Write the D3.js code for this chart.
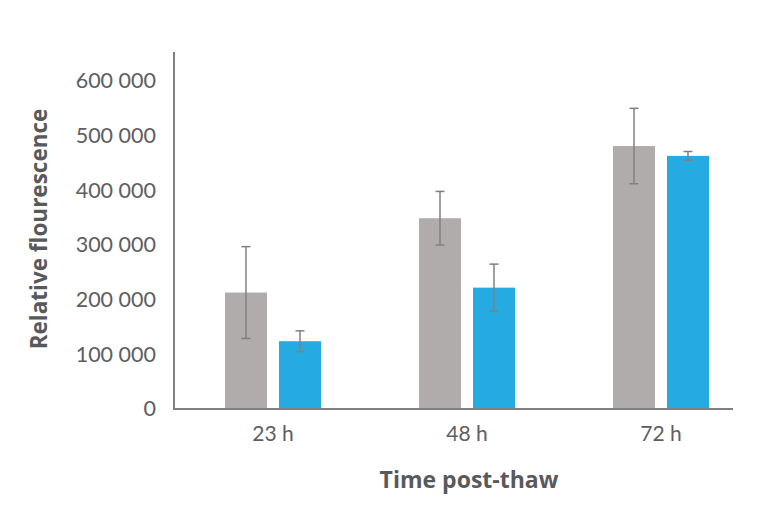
<!DOCTYPE html>
<html>
<head>
<meta charset="utf-8">
<script src="https://cdn.jsdelivr.net/npm/d3@7/dist/d3.min.js"></script>
<style>
  html, body { margin: 0; padding: 0; background: #ffffff; }
  svg { display: block; }
</style>
</head>
<body>
<svg id="chart" width="779" height="525"></svg>
<script>
// ---- data ----
const categories = ["23 h", "48 h", "72 h"];
const seriesNames = ["Control", "Treated"];
const controlValues = [213000, 349000, 481000];
const controlErrors = [84000, 49000, 69000];
const treatedValues = [124000, 222000, 463000];
const treatedErrors = [19000, 43000, 8000];
const yTickValues = [0, 100000, 200000, 300000, 400000, 500000, 600000];
const yAxisTitle = "Relative flourescence";
const xAxisTitle = "Time post-thaw";

// ---- layout ----
const W = 779, H = 525;
const axisX = 174, axisRight = 733;
const baseY = 409, topY = 52;
const colors = { Control: "#b0acab", Treated: "#25abe1" };
const textColor = "#5d5e60";
const titleColor = "#58595b";
const axisColor = "#808080";
const font = "Lato, 'Open Sans', sans-serif";
const titleFont = "'Open Sans', 'Noto Sans', sans-serif";

const svg = d3.select("#chart");

const y = d3.scaleLinear().domain([0, 653000]).range([baseY, topY]);
const x0 = d3.scaleBand().domain(categories).range([176, 758]).paddingInner(0).paddingOuter(0);
const x1 = d3.scaleBand().domain(seriesNames).range([49, 145]).paddingInner(0.222).paddingOuter(0);

const rows = categories.map((c, i) => ({
  cat: c,
  bars: [
    { s: "Control", v: controlValues[i], e: controlErrors[i] },
    { s: "Treated", v: treatedValues[i], e: treatedErrors[i] }
  ]
}));

// bars
const g = svg.append("g");
const groups = g.selectAll("g.grp").data(rows).join("g")
  .attr("class", "grp")
  .attr("transform", d => `translate(${x0(d.cat)},0)`);

groups.selectAll("rect").data(d => d.bars).join("rect")
  .attr("x", d => x1(d.s))
  .attr("y", d => y(d.v))
  .attr("width", x1.bandwidth())
  .attr("height", d => y(0) - y(d.v))
  .attr("fill", d => colors[d.s]);

// error bars
const capHalf = 4.5;
const eb = groups.selectAll("g.err").data(d => d.bars).join("g").attr("class", "err")
  .attr("stroke", axisColor).attr("stroke-width", 1.5);
eb.append("line")
  .attr("x1", d => x1(d.s) + x1.bandwidth() / 2)
  .attr("x2", d => x1(d.s) + x1.bandwidth() / 2)
  .attr("y1", d => y(d.v + d.e))
  .attr("y2", d => y(d.v - d.e));
eb.append("line")
  .attr("x1", d => x1(d.s) + x1.bandwidth() / 2 - capHalf)
  .attr("x2", d => x1(d.s) + x1.bandwidth() / 2 + capHalf)
  .attr("y1", d => y(d.v + d.e))
  .attr("y2", d => y(d.v + d.e));
eb.append("line")
  .attr("x1", d => x1(d.s) + x1.bandwidth() / 2 - capHalf)
  .attr("x2", d => x1(d.s) + x1.bandwidth() / 2 + capHalf)
  .attr("y1", d => y(d.v - d.e))
  .attr("y2", d => y(d.v - d.e));

// axis lines
svg.append("line")
  .attr("x1", axisX).attr("x2", axisX)
  .attr("y1", y.range()[1]).attr("y2", y(0) + 1)
  .attr("stroke", axisColor).attr("stroke-width", 2);
svg.append("line")
  .attr("x1", axisX - 1).attr("x2", axisRight)
  .attr("y1", y(0)).attr("y2", y(0))
  .attr("stroke", axisColor).attr("stroke-width", 2);

// y axis labels
const fmt = v => d3.format(",")(v).replace(/,/g, " ");
const yAxis = d3.axisLeft(y).tickValues(yTickValues).tickFormat(fmt).tickSize(0).tickPadding(18);
const ya = svg.append("g").attr("transform", `translate(${axisX},0)`).call(yAxis);
ya.select(".domain").remove();
ya.selectAll("text")
  .attr("fill", textColor)
  .style("font-family", font)
  .style("font-size", "21.5px");

// x axis labels
const xAxis = d3.axisBottom(x0).tickSize(0).tickPadding(17);
const xa = svg.append("g").attr("transform", `translate(0,${baseY})`).call(xAxis);
xa.select(".domain").remove();
xa.selectAll("text")
  .attr("fill", textColor)
  .style("font-family", font)
  .style("font-size", "21px");

// titles
svg.append("text")
  .attr("x", 469).attr("y", 488)
  .attr("text-anchor", "middle")
  .attr("fill", titleColor)
  .style("font-family", titleFont)
  .style("font-weight", "bold")
  .style("font-size", "23px")
  .text(xAxisTitle);

svg.append("text")
  .attr("transform", "translate(47,229) rotate(-90)")
  .attr("text-anchor", "middle")
  .attr("fill", titleColor)
  .style("font-family", titleFont)
  .style("font-weight", "bold")
  .style("font-size", "22.5px")
  .text(yAxisTitle);
</script>
</body>
</html>
